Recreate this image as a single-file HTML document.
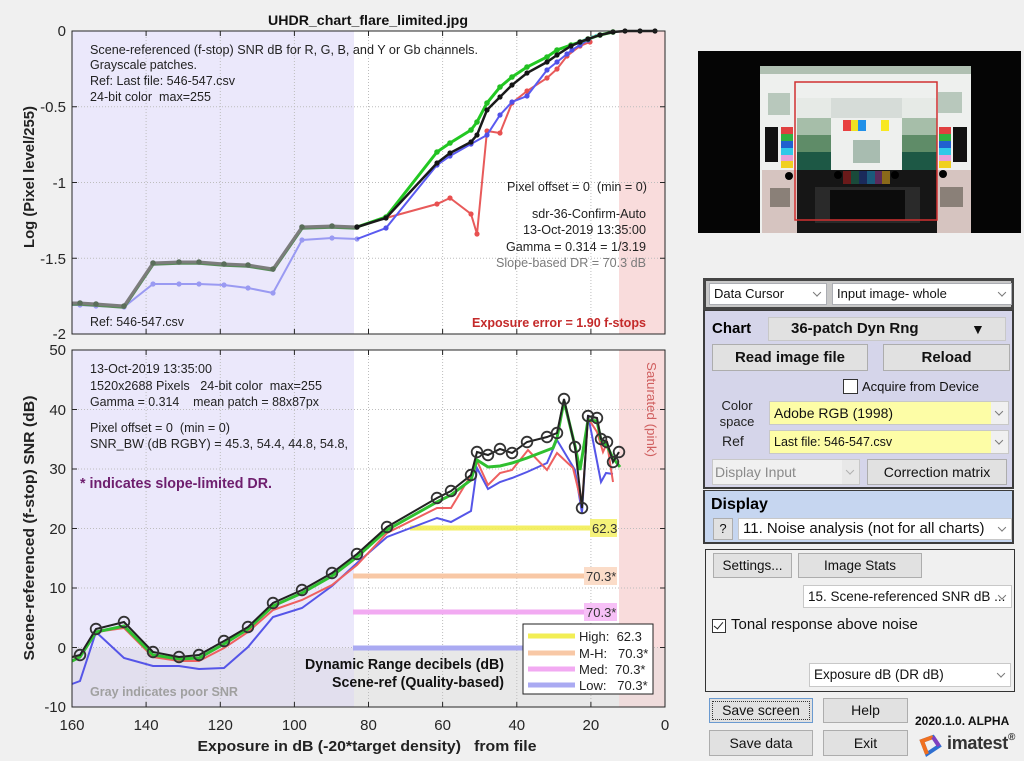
<!DOCTYPE html>
<html><head><meta charset="utf-8">
<style>
*{margin:0;padding:0;box-sizing:border-box}
html,body{width:1024px;height:761px;background:#f0f0f0;overflow:hidden}
body{position:relative;font-family:"Liberation Sans",Arial,sans-serif;color:#000}
.a{position:absolute}
.b{position:absolute;background:#e1e1e1;border:1px solid #adadad;text-align:center;font-size:14px;white-space:nowrap;color:#111}
.s{position:absolute;background:#fff;border:1px solid #abadb3;font-size:13px;padding-left:4px;white-space:nowrap;overflow:hidden;color:#111}
.ab{position:absolute;right:0;top:0;bottom:0;width:17px}
.ch{position:absolute;left:5px;top:50%;width:6px;height:6px;border-right:1px solid #7a7a7a;border-bottom:1px solid #7a7a7a;transform:translateY(-75%) rotate(45deg)}
svg text{white-space:pre}
</style></head><body>
<svg class="a" style="left:0;top:0" width="1024" height="761" viewBox="0 0 1024 761" xmlns="http://www.w3.org/2000/svg" font-family="Liberation Sans, Arial, sans-serif">
<defs>
<marker id="dG" markerWidth="8" markerHeight="8" refX="4" refY="4" markerUnits="userSpaceOnUse"><circle cx="4" cy="4" r="2.8" fill="#22c022"/></marker>
<marker id="dK" markerWidth="8" markerHeight="8" refX="4" refY="4" markerUnits="userSpaceOnUse"><circle cx="4" cy="4" r="2.6" fill="#151515"/></marker>
<marker id="dB" markerWidth="8" markerHeight="8" refX="4" refY="4" markerUnits="userSpaceOnUse"><circle cx="4" cy="4" r="2.6" fill="#5050e8"/></marker>
<marker id="dBf" markerWidth="8" markerHeight="8" refX="4" refY="4" markerUnits="userSpaceOnUse"><circle cx="4" cy="4" r="2.6" fill="#9a9af2"/></marker>
<marker id="dR" markerWidth="8" markerHeight="8" refX="4" refY="4" markerUnits="userSpaceOnUse"><circle cx="4" cy="4" r="2.6" fill="#e85050"/></marker>
<marker id="dGr" markerWidth="8" markerHeight="8" refX="4" refY="4" markerUnits="userSpaceOnUse"><circle cx="4" cy="4" r="2.8" fill="#5a6e5a"/></marker>
<marker id="ring" markerWidth="14" markerHeight="14" refX="7" refY="7" markerUnits="userSpaceOnUse"><circle cx="7" cy="7" r="5.3" fill="none" stroke="#333" stroke-width="1.8"/></marker>
</defs>

<!-- ===== TOP CHART ===== -->
<text x="368" y="25" text-anchor="middle" font-size="14" font-weight="bold" fill="#111" textLength="200" lengthAdjust="spacingAndGlyphs">UHDR_chart_flare_limited.jpg</text>
<rect x="72" y="31" width="593" height="303" fill="#fff"/>
<rect x="72" y="31" width="282" height="303" fill="#ebe8fb"/>
<rect x="619" y="31" width="46" height="303" fill="#f9dcdc"/>
<g stroke="#bdbdbd" stroke-dasharray="1 2" stroke-width="1">
<path d="M146.1 31V334M220.3 31V334M294.4 31V334M368.5 31V334M442.6 31V334M516.8 31V334M590.9 31V334M72 106.75H665M72 182.5H665M72 258.25H665"/>
</g>
<g font-size="12.5" fill="#222">
<text x="90" y="54" textLength="388" lengthAdjust="spacingAndGlyphs">Scene-referenced (f-stop) SNR dB for R, G, B, and Y or Gb channels.</text>
<text x="90" y="69" textLength="107" lengthAdjust="spacingAndGlyphs">Grayscale patches.</text>
<text x="90" y="85" textLength="145" lengthAdjust="spacingAndGlyphs">Ref: Last file: 546-547.csv</text>
<text x="90" y="101" textLength="121" lengthAdjust="spacingAndGlyphs">24-bit color  max=255</text>
<text x="90" y="326" textLength="94" lengthAdjust="spacingAndGlyphs">Ref: 546-547.csv</text>
</g>
<g font-size="13" fill="#222" text-anchor="end">
<text x="647" y="191" textLength="140" lengthAdjust="spacingAndGlyphs">Pixel offset = 0  (min = 0)</text>
<text x="646" y="218" textLength="114" lengthAdjust="spacingAndGlyphs">sdr-36-Confirm-Auto</text>
<text x="646" y="234" textLength="123" lengthAdjust="spacingAndGlyphs">13-Oct-2019 13:35:00</text>
<text x="646" y="251" textLength="140" lengthAdjust="spacingAndGlyphs">Gamma = 0.314 = 1/3.19</text>
<text x="646" y="267" textLength="150" lengthAdjust="spacingAndGlyphs" fill="#7a7a7a">Slope-based DR = 70.3 dB</text>
<text x="646" y="327" textLength="174" lengthAdjust="spacingAndGlyphs" font-weight="bold" fill="#c42a2a">Exposure error = 1.90 f-stops</text>
</g>
<!-- top curves -->
<polyline fill="none" stroke="#9a9af2" stroke-width="2" marker-mid="url(#dBf)" marker-end="url(#dBf)" points="72,305 80,305 96,306 124,307 153,284 179,284 199,284 224,285 248,288 273,293 302,240 332,238 357,239"/>
<polyline fill="none" stroke="#5a8a5a" stroke-width="3.5" points="72,304 80,304 96,305 124,307 153,264 179,263 199,263 224,265 248,266 273,270 302,228 332,227 357,228"/>
<polyline fill="none" stroke="#7c7c7c" stroke-width="3" marker-mid="url(#dGr)" marker-end="url(#dGr)" points="72,303 80,303 96,304 124,306 153,263 179,262 199,262 224,264 248,265 273,269 302,227 332,226 357,227"/>
<polyline fill="none" stroke="#e85a5a" stroke-width="2" marker-mid="url(#dR)" marker-end="url(#dR)" points="386,218 437,204 450,198 471,214 477,234 487,131 500,133 512,103 527,91 547,78 557,69 567,56 580,46 590,42"/>
<polyline fill="none" stroke="#5a5af0" stroke-width="2" marker-mid="url(#dB)" marker-end="url(#dB)" points="357,239 386,228 437,165 450,156 471,144 487,135 500,115 512,102 527,96 547,70 557,62 567,54 572,50 580,45 588,40 600,35"/>
<polyline fill="none" stroke="#22c822" stroke-width="3" marker-mid="url(#dG)" marker-end="url(#dG)" points="357,227 386,217 437,152 450,143 471,130 477,122 487,103 500,87 512,77 527,67 547,57 557,50 571,45 580,42 588,39 600,35 613,32"/>
<polyline fill="none" stroke="#60d8d8" stroke-width="1.5" stroke-dasharray="2 2" points="580,41 590,37 600,33"/>
<polyline fill="none" stroke="#1a1a1a" stroke-width="2.5" marker-start="url(#dK)" marker-mid="url(#dK)" marker-end="url(#dK)" points="357,227 386,218 437,163 450,153 471,142 477,135 487,110 500,97 512,85 527,73 547,62 557,55 571,46 580,42 588,39 600,35 613,32 625,31 640,31 655,31"/>
<rect x="72" y="31" width="593" height="303" fill="none" stroke="#262626" stroke-width="1"/>
<path stroke="#262626" stroke-width="1" d="M146.1 334v-5M220.3 334v-5M294.4 334v-5M368.5 334v-5M442.6 334v-5M516.8 334v-5M590.9 334v-5M146.1 31v5M220.3 31v5M294.4 31v5M368.5 31v5M442.6 31v5M516.8 31v5M590.9 31v5M72 106.75h5M72 182.5h5M72 258.25h5M665 106.75h-5M665 182.5h-5M665 258.25h-5"/>
<g font-size="15" fill="#262626" text-anchor="end">
<text x="66" y="36">0</text>
<text x="66" y="112">-0.5</text>
<text x="66" y="188">-1</text>
<text x="66" y="264">-1.5</text>
<text x="66" y="339">-2</text>
</g>
<text transform="translate(34,177) rotate(-90)" text-anchor="middle" font-size="15" font-weight="bold" fill="#222" textLength="142" lengthAdjust="spacingAndGlyphs">Log (Pixel level/255)</text>

<!-- ===== BOTTOM CHART ===== -->
<rect x="72" y="350" width="593" height="357" fill="#fff"/>
<rect x="72" y="350" width="282" height="357" fill="#ebe8fb"/>
<rect x="354" y="648" width="265" height="59" fill="#e8e8e8"/>
<rect x="72" y="648" width="282" height="59" fill="#e2dfee"/>
<rect x="619" y="350" width="46" height="298" fill="#f9dcdc"/>
<rect x="619" y="648" width="46" height="59" fill="#efdcdc"/>
<g stroke="#bdbdbd" stroke-dasharray="1 2" stroke-width="1">
<path d="M146.1 350V707M220.3 350V707M294.4 350V707M368.5 350V707M442.6 350V707M516.8 350V707M590.9 350V707M72 409.5H665M72 469H665M72 528.5H665M72 588H665M72 647.5H665"/>
</g>
<g font-size="12.5" fill="#222">
<text x="90" y="373" textLength="122" lengthAdjust="spacingAndGlyphs">13-Oct-2019 13:35:00</text>
<text x="90" y="390" textLength="232" lengthAdjust="spacingAndGlyphs">1520x2688 Pixels   24-bit color  max=255</text>
<text x="90" y="406" textLength="229" lengthAdjust="spacingAndGlyphs">Gamma = 0.314    mean patch = 88x87px</text>
<text x="90" y="432" textLength="140" lengthAdjust="spacingAndGlyphs">Pixel offset = 0  (min = 0)</text>
<text x="90" y="448" textLength="258" lengthAdjust="spacingAndGlyphs">SNR_BW (dB RGBY) = 45.3, 54.4, 44.8, 54.8,</text>
</g>
<text x="80" y="488" font-size="15" font-weight="bold" fill="#6e1e6e" textLength="192" lengthAdjust="spacingAndGlyphs">* indicates slope-limited DR.</text>
<text x="90" y="696" font-size="13" font-weight="bold" fill="#a0a0a0" textLength="148" lengthAdjust="spacingAndGlyphs">Gray indicates poor SNR</text>
<text transform="translate(647,362) rotate(90)" font-size="13" fill="#d06060" textLength="95" lengthAdjust="spacingAndGlyphs">Saturated (pink)</text>

<!-- DR bars -->
<line x1="410" y1="528" x2="590" y2="528" stroke="#f2ee55" stroke-width="5" opacity="0.9"/>
<rect x="590" y="519" width="27" height="18" fill="#f5f27a"/>
<text x="592" y="533" font-size="13" fill="#333">62.3</text>
<line x1="353" y1="576" x2="584" y2="576" stroke="#f8c8a6" stroke-width="5"/>
<rect x="584" y="567" width="33" height="18" fill="#fbdcc8"/>
<text x="586" y="581" font-size="13" fill="#333">70.3*</text>
<line x1="353" y1="612" x2="584" y2="612" stroke="#f2aaf2" stroke-width="5"/>
<rect x="584" y="603" width="33" height="18" fill="#f7c0f7"/>
<text x="586" y="617" font-size="13" fill="#333">70.3*</text>
<line x1="353" y1="648" x2="525" y2="648" stroke="#aaaaf2" stroke-width="5"/>

<!-- bottom curves -->
<polyline fill="none" stroke="#5555e8" stroke-width="2" points="72,684 80,681 96,632 124,658 153,666 179,666 199,669 224,668 248,647 273,617 302,608 332,586 357,563 387,537 437,518 451,522 471,511 477,468 488,489 500,482 512,478 527,472 547,463 557,440 575,470 582,513 588,415 601,482 606,473 613,474"/>
<polyline fill="none" stroke="#ee6060" stroke-width="2" points="72,657 80,656 96,632 124,628 153,657 179,661 199,661 224,648 248,632 273,610 302,600 332,585 357,565 387,533 437,508 451,508 471,475 477,461 488,485 500,473 512,470 528,450 547,470 557,453 573,468 582,505 588,418 597,432 603,452 607,443 613,482"/>
<polyline fill="none" stroke="#30c030" stroke-width="3" points="72,661 80,657 96,632 124,626 153,655 179,659 199,658 224,644 248,629 273,606 302,593 332,576 357,557 387,530 437,502 451,495 471,480 477,460 488,467 500,466 512,463 527,458 553,448 557,438 564,401 575,446 580,470 588,420 597,421 601,440 607,446 613,458 620,467"/>
<polyline fill="none" stroke="#222" stroke-width="2" marker-mid="url(#ring)" marker-end="url(#ring)" points="72,657 80,655 96,629 124,622 153,652 179,657 199,655 224,641 248,627 273,603 302,590 332,573 357,554 387,527 437,498 451,491 471,475 477,452 488,455 500,449 512,453 527,442 547,437 557,433 564,399 575,447 582,508 588,416 597,418 601,439 607,442 613,462 619,452"/>

<!-- legend -->
<rect x="523" y="624" width="130" height="70" fill="#fff" stroke="#222" stroke-width="1"/>
<line x1="528" y1="636" x2="575" y2="636" stroke="#f2ee55" stroke-width="5"/>
<line x1="528" y1="653" x2="575" y2="653" stroke="#f8c8a6" stroke-width="5"/>
<line x1="528" y1="669" x2="575" y2="669" stroke="#f2aaf2" stroke-width="5"/>
<line x1="528" y1="685" x2="575" y2="685" stroke="#aaaaf2" stroke-width="5"/>
<g font-size="13" fill="#222">
<text x="579" y="641">High:  62.3</text>
<text x="579" y="658">M-H:   70.3*</text>
<text x="579" y="674">Med:  70.3*</text>
<text x="579" y="690">Low:   70.3*</text>
</g>
<g font-size="14.5" font-weight="bold" fill="#111" text-anchor="end">
<text x="504" y="669" textLength="199" lengthAdjust="spacingAndGlyphs">Dynamic Range decibels (dB)</text>
<text x="504" y="687" textLength="172" lengthAdjust="spacingAndGlyphs">Scene-ref (Quality-based)</text>
</g>

<rect x="72" y="350" width="593" height="357" fill="none" stroke="#262626" stroke-width="1"/>
<path stroke="#262626" stroke-width="1" d="M146.1 707v-5M220.3 707v-5M294.4 707v-5M368.5 707v-5M442.6 707v-5M516.8 707v-5M590.9 707v-5M146.1 350v5M220.3 350v5M294.4 350v5M368.5 350v5M442.6 350v5M516.8 350v5M590.9 350v5M72 409.5h5M72 469h5M72 528.5h5M72 588h5M72 647.5h5M665 409.5h-5M665 469h-5M665 528.5h-5M665 588h-5M665 647.5h-5"/>
<g font-size="15" fill="#262626" text-anchor="end">
<text x="66" y="355">50</text>
<text x="66" y="415">40</text>
<text x="66" y="474">30</text>
<text x="66" y="534">20</text>
<text x="66" y="593">10</text>
<text x="66" y="653">0</text>
<text x="66" y="712">-10</text>
</g>
<g font-size="15" fill="#262626" text-anchor="middle">
<text x="72" y="730">160</text>
<text x="146.1" y="730">140</text>
<text x="220.3" y="730">120</text>
<text x="294.4" y="730">100</text>
<text x="368.5" y="730">80</text>
<text x="442.6" y="730">60</text>
<text x="516.8" y="730">40</text>
<text x="590.9" y="730">20</text>
<text x="665" y="730">0</text>
</g>
<text x="367" y="751" text-anchor="middle" font-size="15" font-weight="bold" fill="#222" textLength="339" lengthAdjust="spacingAndGlyphs">Exposure in dB (-20*target density)   from file</text>
<text transform="translate(34,528) rotate(-90)" text-anchor="middle" font-size="15" font-weight="bold" fill="#222" textLength="265" lengthAdjust="spacingAndGlyphs">Scene-referenced (f-stop) SNR (dB)</text>

<!-- ===== THUMBNAIL ===== -->
<rect x="698" y="51" width="323" height="182" fill="#050505"/>
<rect x="760" y="66" width="211" height="167" fill="#eef0ee"/>
<rect x="760" y="66" width="211" height="8" fill="#b0c0b2"/>
<rect x="768" y="93" width="22" height="22" fill="#b8c8bc"/>
<rect x="938" y="92" width="24" height="21" fill="#b8c8bc"/>
<rect x="797" y="98" width="34" height="20" fill="#e6eae6"/>
<rect x="902" y="98" width="35" height="20" fill="#e6eae6"/>
<rect x="831" y="98" width="71" height="20" fill="#d6dcd8"/>
<rect x="797" y="118" width="34" height="17" fill="#a6bea9"/>
<rect x="902" y="118" width="35" height="17" fill="#a6bea9"/>
<rect x="797" y="135" width="34" height="17" fill="#5f8c68"/>
<rect x="902" y="135" width="35" height="17" fill="#5f8c68"/>
<rect x="797" y="152" width="34" height="18" fill="#1d5845"/>
<rect x="902" y="152" width="35" height="18" fill="#1d5845"/>
<rect x="853" y="140" width="27" height="23" fill="#a8bcb0"/>
<rect x="843" y="120" width="8" height="11" fill="#e84040"/>
<rect x="851" y="120" width="7" height="11" fill="#f0e020"/>
<rect x="858" y="120" width="8" height="11" fill="#2090e8"/>
<rect x="881" y="120" width="8" height="11" fill="#f8e820"/>
<rect x="765" y="127" width="13" height="35" fill="#111"/>
<rect x="953" y="127" width="14" height="35" fill="#111"/>
<rect x="781" y="127" width="12" height="7" fill="#e04040"/>
<rect x="781" y="134" width="12" height="7" fill="#30b040"/>
<rect x="781" y="141" width="12" height="7" fill="#2060d0"/>
<rect x="781" y="148" width="12" height="7" fill="#30c8e8"/>
<rect x="781" y="155" width="12" height="6" fill="#e8a0d8"/>
<rect x="781" y="161" width="12" height="7" fill="#f0d020"/>
<rect x="939" y="127" width="12" height="7" fill="#e04040"/>
<rect x="939" y="134" width="12" height="7" fill="#30b040"/>
<rect x="939" y="141" width="12" height="7" fill="#2060d0"/>
<rect x="939" y="148" width="12" height="7" fill="#30c8e8"/>
<rect x="939" y="155" width="12" height="6" fill="#e8a0d8"/>
<rect x="939" y="161" width="12" height="7" fill="#f0d020"/>
<rect x="762" y="170" width="35" height="63" fill="#d6c4c0"/>
<rect x="937" y="170" width="34" height="63" fill="#d6c4c0"/>
<rect x="770" y="188" width="20" height="19" fill="#8a8078"/>
<rect x="940" y="187" width="23" height="20" fill="#8a8078"/>
<rect x="797" y="170" width="140" height="63" fill="#161616"/>
<rect x="815" y="187" width="105" height="36" fill="#2a2a2a"/>
<rect x="830" y="190" width="75" height="30" fill="#0c0c0c"/>
<rect x="843" y="171" width="8" height="13" fill="#6a1a1a"/>
<rect x="851" y="171" width="8" height="13" fill="#1a4a3a"/>
<rect x="859" y="171" width="8" height="13" fill="#1a2a5a"/>
<rect x="867" y="171" width="8" height="13" fill="#1a5a7a"/>
<rect x="875" y="171" width="7" height="13" fill="#5a2a5a"/>
<rect x="882" y="171" width="8" height="13" fill="#8a6a1a"/>
<g fill="#000"><circle cx="789" cy="176" r="4"/><circle cx="838" cy="175" r="4"/><circle cx="895" cy="175" r="4"/><circle cx="943" cy="174" r="4"/></g>
<rect x="795" y="82" width="142" height="138" fill="none" stroke="#d03030" stroke-width="1.5"/>
</svg>

<!-- ===== CONTROL PANEL ===== -->
<div class="a" style="left:703px;top:278px;width:311px;height:32px;background:#c8c8c8;border:3px solid #454545"></div>
<div class="s" style="left:709px;top:283px;width:118px;height:22px;line-height:20px">Data Cursor<div class="ab"><div class="ch"></div></div></div>
<div class="s" style="left:832px;top:283px;width:180px;height:22px;line-height:20px">Input image- whole<div class="ab"><div class="ch"></div></div></div>

<div class="a" style="left:703px;top:310px;width:311px;height:179px;background:#d5d5ea;border:2px solid #3c3c3c;border-top-width:1px"></div>
<div class="a" style="left:712px;top:320px;font-size:15px;font-weight:bold">Chart</div>
<div class="b" style="left:768px;top:317px;width:238px;height:24px;line-height:22px;font-weight:bold;font-size:15px;border-color:#c8c8c8;text-align:left;padding-left:22px">36-patch Dyn Rng<span style="position:absolute;left:202px;top:0;font-size:14px">▼</span></div>
<div class="b" style="left:712px;top:344px;width:156px;height:27px;line-height:25px;font-weight:bold;font-size:15px">Read image file</div>
<div class="b" style="left:883px;top:344px;width:127px;height:27px;line-height:25px;font-weight:bold;font-size:15px">Reload</div>
<div class="a" style="left:843px;top:379px;width:15px;height:15px;background:#fff;border:1px solid #333"></div>
<div class="a" style="left:862px;top:379px;font-size:13px;color:#111">Acquire from Device</div>
<div class="a" style="left:719px;top:398px;width:36px;font-size:13px;line-height:16px;text-align:center;color:#222">Color<br>space</div>
<div class="s" style="left:769px;top:401px;width:240px;height:24px;line-height:22px;background:#fdfda6;font-size:14px;border-color:#c8c8c8">Adobe RGB (1998)<div class="ab" style="background:#f0f0f0"><div class="ch"></div></div></div>
<div class="a" style="left:722px;top:433px;font-size:14px;color:#222">Ref</div>
<div class="s" style="left:769px;top:430px;width:240px;height:24px;line-height:22px;background:#fdfda6;font-size:12.5px;border-color:#c8c8c8">Last file: 546-547.csv<div class="ab" style="background:#f0f0f0"><div class="ch"></div></div></div>
<div class="s" style="left:712px;top:459px;width:148px;height:26px;line-height:24px;background:#f0f0f0;color:#8a8a8a;font-size:14px;border-color:#c8c8c8;padding-left:2px">Display Input<div class="ab" style="background:#e8e8e8"><div class="ch" style="border-color:#b0b0b0"></div></div></div>
<div class="b" style="left:867px;top:459px;width:140px;height:26px;line-height:24px">Correction matrix</div>

<div class="a" style="left:703px;top:490px;width:311px;height:54px;background:#c6d6f0;border:2px solid #3c3c3c;border-top-width:1px"></div>
<div class="a" style="left:711px;top:496px;font-size:16px;font-weight:bold">Display</div>
<div class="b" style="left:713px;top:518px;width:20px;height:22px;line-height:20px;font-size:13px">?</div>
<div class="s" style="left:738px;top:518px;width:274px;height:22px;line-height:20px;font-size:15px;border-color:#c8c8c8">11. Noise analysis (not for all charts)<div class="ab"><div class="ch"></div></div></div>

<div class="a" style="left:705px;top:549px;width:310px;height:143px;border:1.5px solid #333"></div>
<div class="b" style="left:713px;top:553px;width:79px;height:25px;line-height:23px;font-size:13.5px">Settings...</div>
<div class="b" style="left:798px;top:553px;width:124px;height:25px;line-height:23px;font-size:13.5px">Image Stats</div>
<div class="s" style="left:803px;top:585px;width:209px;height:23px;line-height:21px;font-size:13.5px;border-color:#c8c8c8">15. Scene-referenced SNR dB ...<div class="ab"><div class="ch"></div></div></div>
<div class="a" style="left:712px;top:619px;width:14px;height:14px;background:#fff;border:1px solid #333"><div style="position:absolute;left:3px;top:0px;width:5px;height:9px;border-right:1.5px solid #222;border-bottom:1.5px solid #222;transform:rotate(40deg)"></div></div>
<div class="a" style="left:731px;top:616px;font-size:15px;color:#111">Tonal response above noise</div>
<div class="s" style="left:809px;top:663px;width:202px;height:24px;line-height:22px;font-size:13.5px;border-color:#c8c8c8">Exposure dB (DR dB)<div class="ab"><div class="ch"></div></div></div>

<div class="b" style="left:709px;top:698px;width:104px;height:25px;line-height:23px;border-color:#6a9ad0"><div style="position:absolute;left:2px;top:2px;right:2px;bottom:2px;border:1px dotted #333"></div>Save screen</div>
<div class="b" style="left:823px;top:698px;width:85px;height:25px;line-height:23px">Help</div>
<div class="b" style="left:709px;top:730px;width:104px;height:26px;line-height:24px">Save data</div>
<div class="b" style="left:823px;top:730px;width:85px;height:26px;line-height:24px">Exit</div>
<div class="a" style="left:915px;top:714px;font-size:12px;font-weight:bold;color:#111">2020.1.0. ALPHA</div>
<svg class="a" style="left:918px;top:734px" width="26" height="24" viewBox="0 0 26 24">
<polygon points="4,7 15,3 21,12 9,20" fill="none" stroke="#2f6fd0" stroke-width="4"/>
<polyline points="9,20 4,7 15,3" fill="none" stroke="#f07020" stroke-width="4"/>
<polyline points="15,3 21,12" fill="none" stroke="#8040c0" stroke-width="4"/>
</svg>
<div class="a" style="left:947px;top:733px;font-size:18px;font-weight:bold;color:#333;letter-spacing:-0.3px">imatest<sup style="font-size:10px;position:relative;top:-2px">®</sup></div>
</body></html>
